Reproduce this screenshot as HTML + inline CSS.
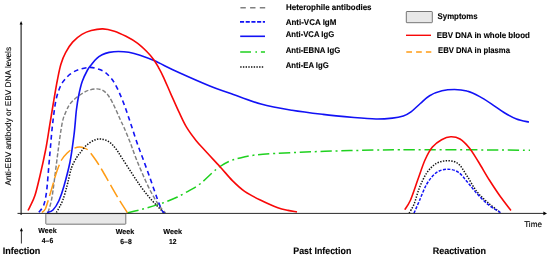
<!DOCTYPE html>
<html><head><meta charset="utf-8"><title>EBV serology</title>
<style>
html,body{margin:0;padding:0;background:#fff;}
svg{display:block;}
text{font-family:"Liberation Sans",sans-serif;fill:#000;stroke:#000;stroke-width:0.12px;text-rendering:geometricPrecision;}
.b{font-weight:bold;stroke:#000;stroke-width:0.22px;}
.c{fill:none;stroke-linecap:butt;stroke-linejoin:round;}
</style></head><body>
<svg width="550" height="258" viewBox="0 0 550 258">
<rect width="550" height="258" fill="#fff"/>
<!-- symptoms bar -->
<rect x="45.8" y="213.6" width="80" height="10.6" rx="0.6" fill="#e8e8e8" stroke="#555" stroke-width="0.8"/>
<!-- curves -->
<path class="c" d="M127.4 212.8C130.0 212.2 137.9 210.4 143.0 209.0C148.1 207.6 153.6 205.9 157.8 204.6C162.0 203.3 164.7 202.3 168.0 201.0C171.3 199.7 174.1 198.6 177.4 197.0C180.7 195.4 184.2 193.5 188.0 191.3C191.8 189.1 196.0 187.1 200.0 184.0C204.0 180.9 208.7 175.9 212.0 173.0C215.3 170.1 217.0 168.5 220.0 166.5C223.0 164.5 226.7 162.4 230.0 161.0C233.3 159.6 235.8 159.0 240.0 158.0C244.2 157.0 249.2 155.8 255.0 155.0C260.8 154.2 267.5 153.9 275.0 153.5C282.5 153.1 291.7 152.7 300.0 152.3C308.3 151.9 316.7 151.6 325.0 151.3C333.3 151.0 341.7 150.8 350.0 150.6C358.3 150.4 366.7 150.2 375.0 150.1C383.3 150.0 387.5 149.9 400.0 149.8C412.5 149.8 433.3 149.8 450.0 149.8C466.7 149.8 486.7 149.9 500.0 150.0C513.3 150.1 525.0 150.2 530.0 150.3" stroke="#1fd11f" stroke-width="1.5" stroke-dasharray="11.3 3.75 2 3.75"/>
<path class="c" d="M48.0 212.5C48.6 210.5 50.3 205.8 51.4 200.4C52.5 195.0 53.3 188.4 54.4 180.0C55.5 171.6 56.9 159.7 58.2 150.0C59.5 140.3 61.0 128.5 62.4 122.0C63.8 115.5 65.0 114.0 66.3 111.0C67.6 108.0 68.2 106.3 70.0 104.0C71.8 101.7 74.1 99.4 76.8 97.3C79.5 95.2 83.1 92.6 86.3 91.2C89.5 89.8 93.4 89.1 96.0 88.9C98.6 88.7 100.3 89.3 102.0 90.0C103.7 90.7 104.8 91.7 106.0 92.8C107.2 93.9 107.9 94.8 109.0 96.5C110.1 98.2 111.3 100.4 112.6 102.8C113.8 105.2 115.2 108.1 116.5 111.0C117.8 113.9 119.2 117.2 120.4 120.0C121.7 122.8 122.4 123.8 124.0 127.5C125.6 131.2 128.0 136.9 130.0 142.0C132.0 147.1 133.6 152.3 135.8 157.8C138.0 163.3 140.5 169.3 143.0 175.0C145.5 180.7 148.3 186.9 151.0 192.0C153.7 197.1 156.6 202.0 159.0 205.5C161.4 209.0 164.4 211.8 165.5 213.0" stroke="#808080" stroke-width="1.45" stroke-dasharray="4.2 2"/>
<path class="c" d="M42.0 212.5C42.5 211.9 44.1 211.4 45.3 209.0C46.4 206.6 47.7 201.9 48.9 198.0C50.1 194.1 51.5 189.5 52.7 185.3C54.0 181.1 54.9 176.9 56.4 172.7C57.9 168.5 59.6 163.4 61.5 160.0C63.4 156.6 65.9 154.4 67.8 152.5C69.7 150.6 71.1 149.7 73.0 148.8C74.9 147.9 77.5 147.1 79.4 147.0C81.3 146.9 82.9 147.5 84.5 148.2C86.1 148.8 86.9 148.9 88.8 150.9C90.7 152.9 93.5 156.8 95.7 160.0C97.9 163.2 99.6 166.0 102.0 170.0C104.4 174.0 107.2 179.2 110.0 184.0C112.8 188.8 115.8 194.2 118.7 199.0C121.6 203.8 126.0 210.5 127.4 212.8" stroke="#ff9c14" stroke-width="1.5" stroke-dasharray="14 4.6"/>
<path class="c" d="M56.4 212.5C56.9 211.6 58.5 209.0 59.5 207.0C60.5 205.0 61.7 203.0 62.7 200.4C63.7 197.8 64.7 194.4 65.5 191.5C66.3 188.6 66.8 186.7 67.8 182.7C68.8 178.7 70.1 171.8 71.6 167.6C73.1 163.4 75.2 160.0 76.6 157.6C78.0 155.2 78.4 155.0 80.0 153.0C81.6 151.0 83.9 147.6 86.2 145.5C88.5 143.4 91.5 141.4 94.0 140.3C96.5 139.2 98.9 138.7 101.5 139.0C104.1 139.3 107.1 140.5 109.5 142.1C111.9 143.7 113.6 146.0 115.7 148.6C117.8 151.2 119.2 153.8 121.9 157.9C124.6 162.0 128.6 168.3 131.7 173.0C134.8 177.7 137.5 182.0 140.4 186.0C143.3 190.0 146.1 193.6 149.0 197.0C151.9 200.4 155.4 204.2 157.8 206.7C160.2 209.2 162.4 211.3 163.3 212.2" stroke="#111" stroke-width="1.5" stroke-dasharray="1.4 1.4"/>
<path class="c" d="M38.8 212.3C39.6 211.2 42.3 208.8 43.6 205.5C44.9 202.2 45.7 197.7 46.4 192.8C47.1 187.9 47.4 183.1 48.0 176.0C48.6 168.9 49.4 158.7 50.2 150.0C51.0 141.3 51.6 132.3 52.6 124.0C53.6 115.7 54.7 106.2 56.0 100.0C57.3 93.8 58.9 89.8 60.3 86.5C61.7 83.2 62.8 82.0 64.4 80.0C66.1 78.0 67.9 75.9 70.2 74.2C72.5 72.5 75.1 70.7 78.4 69.6C81.7 68.5 86.7 67.5 90.0 67.4C93.3 67.3 95.5 68.2 98.0 69.0C100.5 69.8 102.8 70.7 104.8 72.0C106.8 73.3 108.4 75.2 110.0 77.0C111.6 78.8 112.7 80.1 114.2 82.6C115.7 85.1 117.5 88.6 119.0 92.0C120.5 95.4 122.1 99.1 123.5 102.8C124.9 106.5 126.2 110.1 127.5 114.0C128.8 117.9 129.9 121.2 131.5 126.0C133.1 130.8 135.2 137.6 137.1 142.9C138.9 148.2 140.4 152.0 142.6 157.8C144.8 163.7 147.6 171.3 150.0 178.0C152.4 184.7 155.0 192.6 157.0 198.0C159.0 203.4 160.8 208.0 162.0 210.5C163.2 213.0 164.1 212.6 164.5 213.0" stroke="#1212f5" stroke-width="1.6" stroke-dasharray="4.7 3.6"/>
<path class="c" d="M47.0 212.5C48.0 212.1 51.0 212.0 53.0 210.0C55.0 208.0 57.2 204.5 59.0 200.5C60.8 196.5 62.2 192.4 64.0 186.0C65.8 179.6 68.3 170.5 70.0 162.0C71.7 153.5 72.9 143.7 74.0 135.0C75.1 126.3 75.6 116.7 76.4 110.0C77.2 103.3 77.8 99.8 78.8 95.0C79.8 90.2 80.8 85.5 82.3 81.3C83.8 77.1 86.0 72.8 87.5 70.0C89.0 67.2 90.1 66.3 91.6 64.4C93.1 62.5 94.5 60.4 96.3 58.8C98.0 57.2 100.0 55.9 102.1 54.8C104.2 53.7 106.4 52.9 109.1 52.4C111.8 51.9 115.1 51.5 118.4 51.5C121.7 51.5 125.2 51.7 128.8 52.3C132.4 52.9 135.8 53.8 140.0 55.2C144.2 56.6 147.5 57.7 154.0 60.6C160.5 63.5 169.5 68.3 178.8 72.5C188.1 76.7 201.3 82.5 209.8 86.0C218.3 89.5 221.5 90.3 230.0 93.3C238.5 96.3 250.7 101.3 261.0 104.1C271.3 106.9 281.7 108.6 292.0 110.3C302.3 112.0 312.7 113.2 323.0 114.4C333.3 115.6 345.2 116.7 354.0 117.5C362.8 118.3 369.6 118.9 376.0 119.0C382.4 119.1 387.8 118.6 392.4 118.1C396.9 117.6 400.2 116.9 403.3 115.9C406.4 114.9 408.2 114.0 411.0 111.9C413.8 109.8 417.2 106.2 420.3 103.5C423.4 100.8 426.0 97.8 429.6 95.7C433.2 93.6 437.9 91.8 442.0 90.8C446.1 89.8 450.2 89.5 454.4 89.5C458.5 89.5 462.8 89.9 466.9 91.1C471.0 92.2 475.2 94.2 479.3 96.4C483.4 98.6 487.6 101.4 491.7 104.1C495.8 106.8 499.9 110.0 504.0 112.5C508.1 115.0 512.4 117.4 516.5 119.0C520.6 120.6 526.8 121.6 528.9 122.1" stroke="#1212f5" stroke-width="1.6"/>
<path class="c" d="M28.0 210.5C28.3 209.9 28.8 209.2 30.0 206.7C31.2 204.2 33.3 200.6 35.0 195.3C36.7 190.1 38.3 182.8 40.1 175.2C41.9 167.6 44.0 158.2 45.6 150.0C47.2 141.8 48.3 133.7 49.6 126.0C50.9 118.3 51.9 111.7 53.2 104.0C54.5 96.3 56.1 86.6 57.4 80.0C58.7 73.4 59.5 68.8 60.9 64.2C62.3 59.6 63.6 56.3 65.6 52.6C67.5 48.9 69.9 45.1 72.6 42.1C75.3 39.1 78.8 36.3 81.9 34.4C85.0 32.5 87.7 31.4 91.2 30.5C94.7 29.6 98.9 28.8 102.8 28.9C106.7 29.0 110.5 30.0 114.4 31.2C118.3 32.4 122.1 34.3 126.0 36.3C129.9 38.3 134.3 40.8 137.7 43.3C141.1 45.8 143.8 48.5 146.5 51.2C149.2 53.9 151.6 56.7 153.6 59.4C155.6 62.1 156.9 64.6 158.5 67.5C160.1 70.4 161.2 72.3 163.3 76.8C165.4 81.3 168.4 88.5 171.0 94.3C173.6 100.1 176.2 106.2 178.8 111.7C181.4 117.2 183.6 122.4 186.5 127.2C189.4 132.0 192.9 136.6 196.0 140.5C199.1 144.4 201.0 146.1 205.0 150.5C209.0 154.9 215.4 161.7 220.0 166.7C224.6 171.7 228.3 176.5 232.4 180.6C236.5 184.7 239.9 188.1 244.6 191.3C249.2 194.5 254.8 197.3 260.3 200.0C265.8 202.7 273.2 206.0 277.8 207.7C282.4 209.4 284.8 209.7 288.0 210.4C291.2 211.1 295.5 211.7 297.0 212.0" stroke="#f80808" stroke-width="1.6"/>
<path class="c" d="M404.7 209.7C405.6 208.2 408.1 205.4 410.3 200.5C412.5 195.6 415.2 187.1 417.6 180.3C420.1 173.6 422.5 165.5 425.0 160.0C427.5 154.5 429.6 150.5 432.4 147.1C435.2 143.7 438.5 141.4 441.6 139.7C444.7 138.0 447.7 136.9 450.8 136.8C453.9 136.7 456.9 137.2 460.0 139.0C463.1 140.8 466.1 144.0 469.2 147.8C472.3 151.6 475.0 156.4 478.4 161.8C481.8 167.2 485.8 174.5 489.5 180.3C493.2 186.1 496.9 191.8 500.5 196.8C504.1 201.8 509.2 208.2 510.9 210.5" stroke="#f80808" stroke-width="1.6"/>
<path class="c" d="M409.2 213.0C410.0 211.5 412.3 208.4 414.0 204.2C415.7 200.0 417.4 192.8 419.5 187.6C421.6 182.4 424.1 176.9 426.8 172.9C429.6 168.9 432.6 165.7 436.0 163.7C439.4 161.7 443.4 160.7 447.1 160.7C450.8 160.7 454.8 161.0 458.2 163.7C461.6 166.3 464.3 172.0 467.4 176.6C470.5 181.2 473.2 187.0 476.6 191.3C480.0 195.6 483.6 198.8 487.6 202.4C491.6 206.0 498.4 211.0 500.5 212.7" stroke="#111" stroke-width="1.5" stroke-dasharray="1.4 1.4"/>
<path class="c" d="M414.0 213.2C414.9 211.1 417.4 205.4 419.5 200.5C421.6 195.6 424.1 188.6 426.8 184.0C429.6 179.4 432.6 175.4 436.0 172.9C439.4 170.4 443.4 169.3 447.1 169.2C450.8 169.1 454.8 170.0 458.2 172.2C461.6 174.3 464.3 178.6 467.4 182.1C470.5 185.6 473.2 189.5 476.6 193.2C480.0 196.9 483.6 200.9 487.6 204.2C491.6 207.4 498.4 211.3 500.5 212.7" stroke="#1212f5" stroke-width="1.5" stroke-dasharray="3 1.5"/>
<!-- axes -->
<line x1="21.1" y1="215" x2="21.1" y2="23.5" stroke="#000" stroke-width="1"/>
<polygon points="21.1,21 19.6,24.4 22.6,24.4" fill="#000"/>
<line x1="17.5" y1="213.4" x2="544" y2="213.4" stroke="#111" stroke-width="0.9"/>
<polygon points="547,213.4 543.4,211.5 543.4,215.3" fill="#000"/>
<!-- infection arrow -->
<line x1="21.4" y1="243.5" x2="21.4" y2="230" stroke="#000" stroke-width="0.8"/>
<polygon points="21.4,227.8 19.9,231.3 22.9,231.3" fill="#000"/>
<!-- y label -->
<text transform="translate(10.9,185.4) rotate(-90)" font-size="8.3" stroke-width="0.2" textLength="138.5" lengthAdjust="spacingAndGlyphs">Anti-EBV antibody or EBV DNA levels</text>
<!-- bottom labels -->
<g class="b" font-size="9.5">
<text x="2.8" y="254" textLength="37.6" lengthAdjust="spacingAndGlyphs">Infection</text>
<text x="293.3" y="254" textLength="58" lengthAdjust="spacingAndGlyphs">Past Infection</text>
<text x="432.7" y="254" textLength="53.3" lengthAdjust="spacingAndGlyphs">Reactivation</text>
</g>
<text x="524.2" y="226.7" font-size="8.2" textLength="17.8" lengthAdjust="spacingAndGlyphs">Time</text>
<g class="b" font-size="7.3">
<text x="38.3" y="233" textLength="18.3" lengthAdjust="spacingAndGlyphs">Week</text><text x="41.8" y="242.5" textLength="11.4" lengthAdjust="spacingAndGlyphs">4–6</text>
<text x="115.8" y="233.6" textLength="18.4" lengthAdjust="spacingAndGlyphs">Week</text><text x="120.3" y="243.5" textLength="11.4" lengthAdjust="spacingAndGlyphs">6–8</text>
<text x="163.3" y="233.6" textLength="18.8" lengthAdjust="spacingAndGlyphs">Week</text><text x="169" y="243.5" textLength="7.5" lengthAdjust="spacingAndGlyphs">12</text>
</g>
<!-- legend left -->
<line x1="240.4" y1="7.8" x2="265.2" y2="7.8" stroke="#808080" stroke-width="1.4" stroke-dasharray="5.4 4.3"/>
<line x1="240" y1="21.9" x2="265" y2="21.9" stroke="#1212f5" stroke-width="1.6" stroke-dasharray="4.1 1.6"/>
<line x1="240.2" y1="36.3" x2="265" y2="36.3" stroke="#1212f5" stroke-width="1.6"/>
<line x1="240.2" y1="52" x2="265" y2="52" stroke="#1fd11f" stroke-width="1.6" stroke-dasharray="10.8 4.4 1.6 3.9 5 10"/>
<line x1="240.2" y1="66.9" x2="264" y2="66.9" stroke="#111" stroke-width="1.5" stroke-dasharray="1.4 1.3"/>
<g class="b" font-size="8.4">
<text x="286" y="10" font-size="8.3" textLength="85.5" lengthAdjust="spacingAndGlyphs">Heterophile antibodies</text>
<text x="285.7" y="24.9" textLength="50.7" lengthAdjust="spacingAndGlyphs">Anti-VCA IgM</text>
<text x="285.7" y="36.5" textLength="48.5" lengthAdjust="spacingAndGlyphs">Anti-VCA IgG</text>
<text x="285.7" y="52.6" textLength="54.5" lengthAdjust="spacingAndGlyphs">Anti-EBNA IgG</text>
<text x="285.7" y="68" textLength="43" lengthAdjust="spacingAndGlyphs">Anti-EA IgG</text>
</g>
<!-- legend right -->
<rect x="406.3" y="11.5" width="26" height="11.2" rx="0.6" fill="#e8e8e8" stroke="#555" stroke-width="0.8"/>
<line x1="406" y1="35.3" x2="431" y2="35.3" stroke="#f80808" stroke-width="1.4"/>
<line x1="406.3" y1="52.1" x2="431.3" y2="52.1" stroke="#ff9c14" stroke-width="1.5" stroke-dasharray="5.7 4.1"/>
<g class="b" font-size="8.4">
<text x="437.6" y="19" font-size="8.3" textLength="40" lengthAdjust="spacingAndGlyphs">Symptoms</text>
<text x="436.8" y="38.1" textLength="93.1" lengthAdjust="spacingAndGlyphs">EBV DNA in whole blood</text>
<text x="438" y="53.4" textLength="72" lengthAdjust="spacingAndGlyphs">EBV DNA in plasma</text>
</g>
</svg>
</body></html>
